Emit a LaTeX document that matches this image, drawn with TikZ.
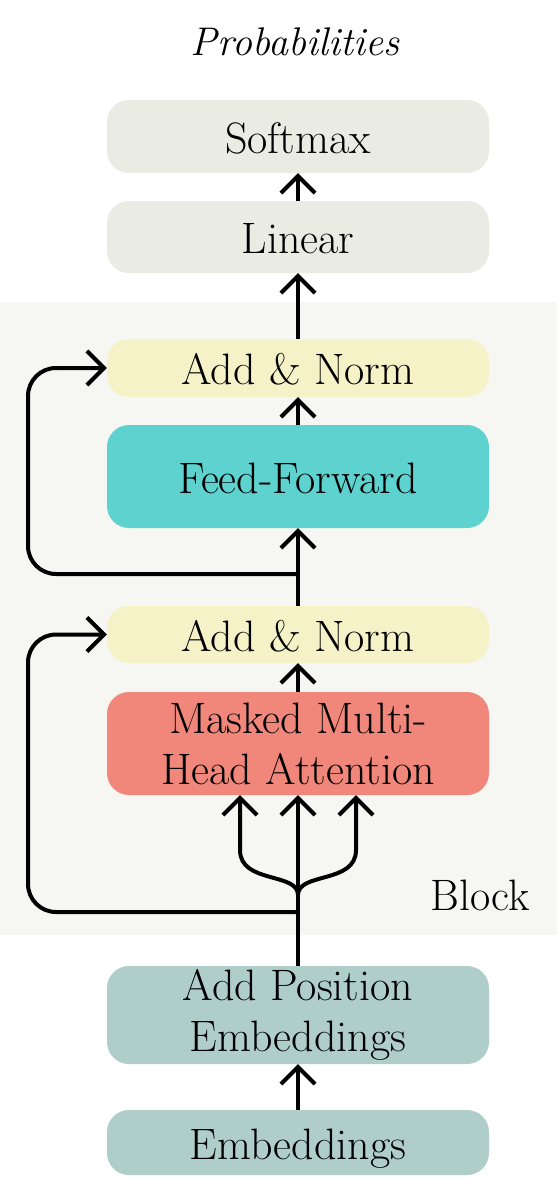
\documentclass[tikz,border=0pt]{standalone}
\usetikzlibrary{arrows.meta,calc}
\definecolor{bgblock}{HTML}{F6F7F2}
\definecolor{greybox}{HTML}{EAECE4}
\definecolor{yellowbox}{HTML}{F5F2C8}
\definecolor{tealbox}{HTML}{5DD2CE}
\definecolor{redbox}{HTML}{F0877A}
\definecolor{sagebox}{HTML}{AFCECA}
\begin{document}
\begin{tikzpicture}[x=1pt,y=-1pt,
  font=\fontsize{44}{51}\selectfont,
  box/.style={rounded corners=22pt, minimum width=382pt, inner sep=0pt, align=center},
  one/.style={text height=33pt, text depth=0pt},
  conn/.style={line width=4pt, -{Straight Barb[length=17pt,width=34pt]}}]
\fill[white] (0,0) rectangle (557,1200);
\useasboundingbox (0,0) rectangle (557,1200);
\fill[bgblock] (0,302) rectangle (557,935);

\node[anchor=base, font=\fontsize{40}{50}\selectfont\itshape] (prob) at (295,55) {Probabilities};
\node[box,one,fill=greybox,minimum height=73pt] (softmax) at (298,136.5) {Softmax};
\node[box,one,fill=greybox,minimum height=72pt] (linear) at (298,237) {Linear};
\node[box,one,fill=yellowbox,minimum height=58pt] (an1) at (298,368) {Add \& Norm};
\node[box,one,fill=tealbox,minimum height=103pt] (ff) at (298,476.5) {Feed-Forward};
\node[box,one,fill=yellowbox,minimum height=57pt] (an2) at (298,634.5) {Add \& Norm};
\node[box,fill=redbox,minimum height=103pt] (mmha) at (298,743.5) {Masked Multi-\\Head Attention};
\node[anchor=base east] (blk) at (533,910) {Block};
\node[box,fill=sagebox,minimum height=98pt] (ape) at (298,1015) {Add Position\\Embeddings};
\node[box,one,fill=sagebox,minimum height=65pt] (emb) at (298,1142.5) {Embeddings};

\coordinate (r1) at (298,574);
\coordinate (r2) at (298,912);
\coordinate (br) at (298,895);

\draw[conn] (emb) -- (ape);
\draw[conn] (ape) -- (mmha);
\draw[conn] (br) .. controls (298,872) and (240,884) .. (240,850) -- ($(mmha.south)+(-58,0)$);
\draw[conn] (br) .. controls (298,872) and (356,884) .. (356,850) -- ($(mmha.south)+(58,0)$);
\draw[conn] (mmha) -- (an2);
\draw[conn] (an2) -- (ff);
\draw[conn] (ff) -- (an1);
\draw[conn] (an1) -- (linear);
\draw[conn] (linear) -- (softmax);
\draw[conn, rounded corners=28pt] (r2) -- (28,912) -- (28,634.5) -- (an2.west);
\draw[conn, rounded corners=28pt] (r1) -- (28,574) -- (28,368) -- (an1.west);
\end{tikzpicture}
\end{document}
